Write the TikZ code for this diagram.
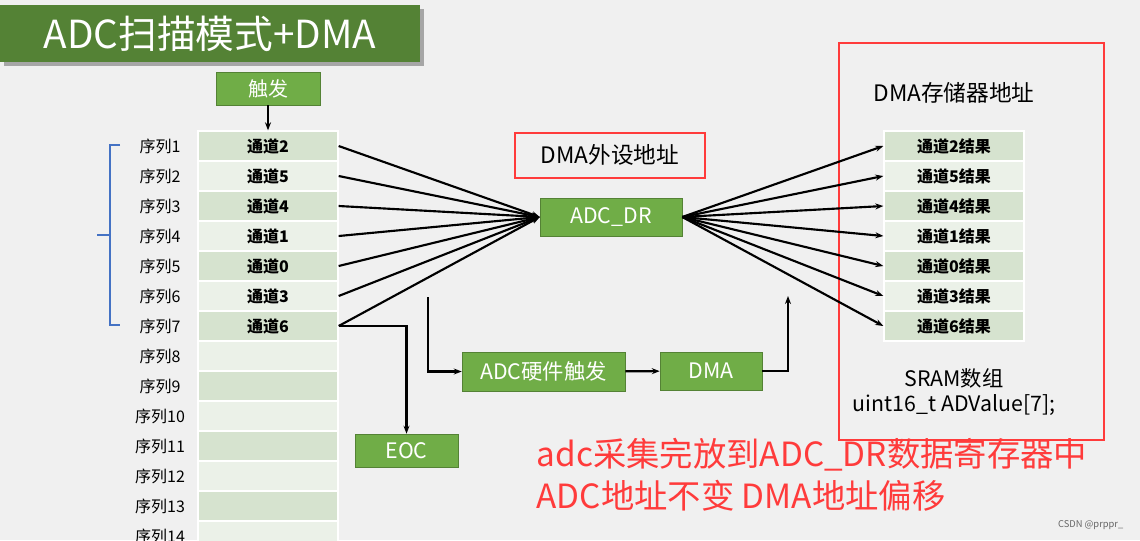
\documentclass[tikz,border=0pt]{standalone}
\usepackage{fontspec}
\setmainfont{Noto Sans CJK SC}
\usetikzlibrary{arrows.meta}
\definecolor{bg}{HTML}{F0F0F0}
\definecolor{dkgreen}{HTML}{548235}
\definecolor{green}{HTML}{70AD47}
\definecolor{rowa}{HTML}{D6E3CF}
\definecolor{rowb}{HTML}{EBF1E8}
\definecolor{red}{HTML}{FF3B3B}
\definecolor{brace}{HTML}{4472C4}
\tikzset{
  gbox/.style={draw=dkgreen, fill=green, text=white, font=\fontsize{15}{18}\selectfont, inner sep=0pt},
  cell/.style={draw=white, line width=1pt, minimum width=105pt, minimum height=22.5pt, inner sep=0pt, font=\bfseries\fontsize{12}{14}\selectfont},
  seq/.style={font=\fontsize{12}{14}\selectfont},
  conn/.style={line width=1.6pt, -{Stealth[length=6pt]}},
  wire/.style={line width=1.6pt}
}
\begin{document}
\begin{tikzpicture}[x=0.75pt, y=-0.75pt]
\fill[bg] (0,0) rectangle (1140,540);
\useasboundingbox (0,0) rectangle (1140,540);
% title
\fill[black!35] (4,9) rectangle (424,66);
\node[fill=dkgreen, text=white, minimum width=315pt, minimum height=42.75pt, inner sep=0pt, font=\fontsize{29}{34}\selectfont] (title) at (210,33.5) {ADC扫描模式+DMA};
% trigger
\node[gbox, minimum width=78pt, minimum height=24.75pt] (trig) at (268,88.5) {触发};
% sequence table
\foreach \i/\ch in {1/通道2,2/通道5,3/通道4,4/通道1,5/通道0,6/通道3,7/通道6,8/,9/,10/,11/,12/,13/,14/} {
  \pgfmathsetmacro{\yy}{146+30*(\i-1)}
  \pgfmathtruncatemacro{\odd}{mod(\i,2)}
  \ifnum\odd=1 \def\fc{rowa}\else\def\fc{rowb}\fi
  \node[cell, fill=\fc] (r\i) at (268,\yy) {\ch};
  \node[seq] (s\i) at (160,\yy) {序列\i};
}
\draw[conn] (trig) -- (r1.north);
% brace
\draw[brace, line width=0.8pt] (120,145) -- (110,145) -- (110,325) -- (120,325) (110,235) -- (97,235);
% ADC_DR
\node[gbox, minimum width=106.5pt, minimum height=28.5pt, font=\fontsize{16}{19}\selectfont] (dr) at (611,217) {ADC\_DR};
\foreach \i in {1,...,7} \draw[conn] (r\i.east) -- (dr.west);
% DMA peripheral address
\node[draw=red, line width=1.5pt, minimum width=142.5pt, minimum height=33.75pt, font=\fontsize{17}{20}\selectfont] (pa) at (610,155) {DMA外设地址};
% memory
\node[draw=red, line width=1.5pt, minimum width=198.75pt, minimum height=297.75pt] (mem) at (971.5,241.5) {};
\node[font=\fontsize{17}{20}\selectfont] (ma) at (954,93) {DMA存储器地址};
\foreach \i/\ch in {1/通道2结果,2/通道5结果,3/通道4结果,4/通道1结果,5/通道0结果,6/通道3结果,7/通道6结果} {
  \pgfmathsetmacro{\yy}{146+30*(\i-1)}
  \pgfmathtruncatemacro{\odd}{mod(\i,2)}
  \ifnum\odd=1 \def\fc{rowa}\else\def\fc{rowb}\fi
  \node[cell, fill=\fc] (m\i) at (954,\yy) {\ch};
  \draw[conn] (dr.east) -- (m\i.west);
}
\node[font=\fontsize{16}{19}\selectfont, align=center] (sram) at (954,392) {SRAM数组\\uint16\_t ADValue[7];};
% EOC
\node[gbox, minimum width=77.25pt, minimum height=24.75pt, font=\fontsize{16}{19}\selectfont] (eoc) at (406.5,450.5) {EOC};
\draw[conn] (r7.east) -| (eoc.north);
% hardware trigger chain
\node[gbox, minimum width=122.25pt, minimum height=29.25pt, font=\fontsize{16}{19}\selectfont] (hw) at (543.5,371.5) {ADC硬件触发};
\node[gbox, minimum width=76.5pt, minimum height=28.5pt, font=\fontsize{16}{19}\selectfont] (dma) at (711,371) {DMA};
\coordinate (h0) at (428,297);
\coordinate (d1) at (788,296);
\draw[conn] (h0) |- (hw.west);
\draw[conn] (hw) -- (dma);
\draw[conn] (dma.east) -| (d1);
% notes
\node[text=red, anchor=west, font=\fontsize{25}{29}\selectfont] (n1) at (532,455) {adc采集完放到ADC\_DR数据寄存器中};
\node[text=red, anchor=west, font=\fontsize{25}{29}\selectfont] (n2) at (532,496) {ADC地址不变 DMA地址偏移};
\node[text=black!60, anchor=east, font=\fontsize{7}{8}\selectfont] (wm) at (1128,525) {CSDN @prppr\_};
\end{tikzpicture}
\end{document}
